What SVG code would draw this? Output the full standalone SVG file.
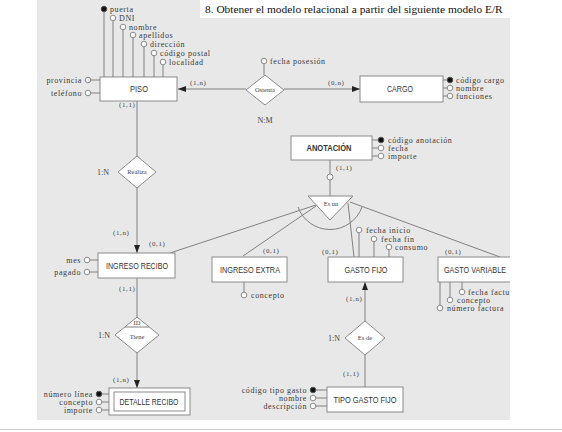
<svg xmlns="http://www.w3.org/2000/svg" width="562" height="432" viewBox="0 0 562 432">
<style>
.box{fill:#fff;stroke:#8a8a8a;stroke-width:1}
.ln{stroke:#808080;stroke-width:1;fill:none}
.oc{fill:#fff;stroke:#8a8a8a;stroke-width:1}
.fc{fill:#111;stroke:#555;stroke-width:1}
.dia{fill:#fff;stroke:#8a8a8a;stroke-width:1}
.attr{font-family:"Liberation Serif",serif;font-size:8px;letter-spacing:0.6px;fill:#3a3a3a}
.card{font-family:"Liberation Serif",serif;font-size:7px;letter-spacing:0.6px;fill:#444}
.ratio{font-family:"Liberation Serif",serif;font-size:8px;fill:#444}
.ent{font-family:"Liberation Sans",Arial,sans-serif;font-size:9px;fill:#333;text-anchor:middle}
.rel{font-family:"Liberation Serif",serif;font-size:6.5px;fill:#444;text-anchor:middle}
.end{text-anchor:end}
.mid{text-anchor:middle}
</style>
<defs>
<marker id="arr" viewBox="0 0 8 6" refX="8" refY="3" markerWidth="8" markerHeight="6" markerUnits="userSpaceOnUse" orient="auto">
<path d="M0,0 L8,3 L0,6 z" fill="#222"/>
</marker>
<clipPath id="page"><rect x="37" y="0" width="473" height="420"/></clipPath>
</defs>
<rect x="0" y="0" width="562" height="432" fill="#fff"/>
<rect x="37" y="0" width="473" height="420" fill="#e8e8e8"/>
<rect x="200" y="0" width="310" height="18" fill="#fff"/>
<line x1="0" y1="429.5" x2="562" y2="429.5" stroke="#cfcfcf" stroke-width="1"/>
<text x="205" y="13" font-family="Liberation Serif,serif" font-size="11.4" fill="#111">8. Obtener el modelo relacional a partir del siguiente modelo E/R</text>

<g clip-path="url(#page)">
<g id="connectors">
<line class="ln" x1="246" y1="89" x2="178" y2="89" marker-end="url(#arr)"/>
<line class="ln" x1="284" y1="89" x2="360" y2="89" marker-end="url(#arr)"/>
<line class="ln" x1="137" y1="101" x2="137" y2="156"/>
<line class="ln" x1="137" y1="188" x2="137" y2="253" marker-end="url(#arr)"/>
<line class="ln" x1="137" y1="278" x2="137" y2="317"/>
<line class="ln" x1="137" y1="353" x2="137" y2="388" marker-end="url(#arr)"/>
<line class="ln" x1="330" y1="160" x2="330" y2="196"/>
<circle class="oc" cx="330" cy="177" r="3"/>
<line class="ln" x1="316" y1="205" x2="170" y2="253"/>
<line class="ln" x1="316" y1="206" x2="243" y2="256"/>
<line class="ln" x1="348" y1="203" x2="354" y2="257"/>
<line class="ln" x1="350" y1="202" x2="500" y2="257"/>
<path class="ln" d="M298,207 A34,34 0 0 0 362,207"/>
<line class="ln" x1="365" y1="321" x2="365" y2="282" marker-end="url(#arr)"/>
<line class="ln" x1="365" y1="355" x2="365" y2="387"/>
<line class="ln" x1="264" y1="64" x2="264" y2="75"/>
</g>

<g id="piso">
<rect class="box" x="100" y="77" width="77" height="24"/>
<text class="ent" x="139" y="92" textLength="18" lengthAdjust="spacingAndGlyphs">PISO</text>
<line class="ln" x1="104" y1="12" x2="104" y2="77"/><circle class="fc" cx="104" cy="9" r="2.8"/>
<text class="attr" x="110" y="12">puerta</text>
<line class="ln" x1="113" y1="21" x2="113" y2="77"/><circle class="oc" cx="113" cy="18" r="2.8"/>
<text class="attr" x="119" y="21">DNI</text>
<line class="ln" x1="123" y1="30" x2="123" y2="77"/><circle class="oc" cx="123" cy="27" r="2.8"/>
<text class="attr" x="129" y="30">nombre</text>
<line class="ln" x1="133" y1="38" x2="133" y2="77"/><circle class="oc" cx="133" cy="35" r="2.8"/>
<text class="attr" x="139" y="38">apellidos</text>
<line class="ln" x1="144" y1="47" x2="144" y2="77"/><circle class="oc" cx="144" cy="44" r="2.8"/>
<text class="attr" x="150" y="47">dirección</text>
<line class="ln" x1="154" y1="56" x2="154" y2="77"/><circle class="oc" cx="154" cy="53" r="2.8"/>
<text class="attr" x="160" y="56">código postal</text>
<line class="ln" x1="163" y1="65" x2="163" y2="77"/><circle class="oc" cx="163" cy="62" r="2.8"/>
<text class="attr" x="169" y="65">localidad</text>
<line class="ln" x1="91" y1="80" x2="100" y2="80"/><circle class="oc" cx="88" cy="80" r="2.8"/>
<text class="attr end" x="82" y="83">provincia</text>
<line class="ln" x1="91" y1="93" x2="100" y2="93"/><circle class="oc" cx="88" cy="93" r="2.8"/>
<text class="attr end" x="82" y="96">teléfono</text>
</g>

<g id="ostenta">
<polygon class="dia" points="265,75 284,90 265,105 246,90"/>
<text class="rel" x="265" y="92">Ostenta</text>
<circle class="oc" cx="264" cy="61" r="2.8"/>
<text class="attr" x="270" y="64">fecha posesión</text>
<text class="card" x="190" y="85">(1,n)</text>
<text class="card" x="328" y="85">(0,n)</text>
<text class="ratio mid" x="265" y="123">N:M</text>
</g>

<g id="cargo">
<rect class="box" x="360" y="76" width="83" height="26"/>
<text class="ent" x="400" y="92" textLength="26" lengthAdjust="spacingAndGlyphs">CARGO</text>
<line class="ln" x1="443" y1="80" x2="448" y2="80"/><circle class="fc" cx="450" cy="80" r="2.8"/>
<text class="attr" x="456" y="83">código cargo</text>
<line class="ln" x1="443" y1="88" x2="448" y2="88"/><circle class="oc" cx="450" cy="88" r="2.8"/>
<text class="attr" x="456" y="91">nombre</text>
<line class="ln" x1="443" y1="96" x2="448" y2="96"/><circle class="oc" cx="450" cy="96" r="2.8"/>
<text class="attr" x="456" y="99">funciones</text>
</g>

<g id="realiza">
<polygon class="dia" points="137,156 156,172 137,188 118,172"/>
<text class="rel" x="137" y="174">Realiza</text>
<text class="card" x="119" y="107">(1,1)</text>
<text class="ratio end" x="109" y="175">1:N</text>
<text class="card" x="113" y="235">(1,n)</text>
</g>

<g id="anotacion">
<rect class="box" x="291" y="136" width="81" height="24"/>
<text class="ent" x="329" y="151" textLength="45" lengthAdjust="spacingAndGlyphs" font-weight="bold">ANOTACIÓN</text>
<line class="ln" x1="372" y1="140" x2="379" y2="140"/><circle class="fc" cx="381" cy="140" r="2.8"/>
<text class="attr" x="388" y="143">código anotación</text>
<line class="ln" x1="372" y1="148" x2="379" y2="148"/><circle class="oc" cx="381" cy="148" r="2.8"/>
<text class="attr" x="388" y="151">fecha</text>
<line class="ln" x1="372" y1="156" x2="379" y2="156"/><circle class="oc" cx="381" cy="156" r="2.8"/>
<text class="attr" x="388" y="159">importe</text>
<text class="card" x="336" y="170">(1,1)</text>
</g>

<g id="es-un">
<polygon class="dia" points="308,196 353,196 330,220"/>
<text class="rel" x="331" y="206" font-family="Liberation Sans,sans-serif">Es un</text>
</g>

<g id="ingreso-recibo">
<rect class="box" x="98" y="253" width="77" height="25"/>
<text class="ent" x="137" y="269" textLength="62" lengthAdjust="spacingAndGlyphs">INGRESO RECIBO</text>
<line class="ln" x1="90" y1="260" x2="98" y2="260"/><circle class="oc" cx="87" cy="260" r="2.8"/>
<text class="attr end" x="81" y="263">mes</text>
<line class="ln" x1="90" y1="272" x2="98" y2="272"/><circle class="oc" cx="87" cy="272" r="2.8"/>
<text class="attr end" x="81" y="275">pagado</text>
<text class="card" x="149" y="246">(0,1)</text>
<text class="card" x="119" y="291">(1,1)</text>
</g>

<g id="ingreso-extra">
<rect class="box" x="212" y="257" width="75" height="25"/>
<text class="ent" x="250" y="273" textLength="60" lengthAdjust="spacingAndGlyphs">INGRESO EXTRA</text>
<line class="ln" x1="244" y1="282" x2="244" y2="292"/><circle class="oc" cx="244" cy="295" r="2.8"/>
<text class="attr" x="251" y="298">concepto</text>
<text class="card" x="263" y="253">(0,1)</text>
</g>

<g id="gasto-fijo">
<rect class="box" x="328" y="257" width="75" height="25"/>
<text class="ent" x="366" y="273" textLength="43" lengthAdjust="spacingAndGlyphs">GASTO FIJO</text>
<line class="ln" x1="359" y1="233" x2="359" y2="257"/><circle class="oc" cx="359" cy="230" r="2.8"/>
<text class="attr" x="366" y="233">fecha inicio</text>
<line class="ln" x1="374" y1="242" x2="374" y2="257"/><circle class="oc" cx="374" cy="239" r="2.8"/>
<text class="attr" x="381" y="242">fecha fin</text>
<line class="ln" x1="389" y1="250" x2="389" y2="257"/><circle class="oc" cx="389" cy="247" r="2.8"/>
<text class="attr" x="395" y="250">consumo</text>
<text class="card" x="322" y="254">(0,1)</text>
<text class="card" x="346" y="301">(1,n)</text>
</g>

<g id="gasto-variable">
<rect class="box" x="438" y="257" width="76" height="25"/>
<text class="ent" x="475" y="273" textLength="62" lengthAdjust="spacingAndGlyphs">GASTO VARIABLE</text>
<line class="ln" x1="440" y1="282" x2="440" y2="305"/><circle class="oc" cx="440" cy="308" r="2.8"/>
<text class="attr" x="447" y="311">número factura</text>
<line class="ln" x1="450" y1="282" x2="450" y2="297"/><circle class="oc" cx="450" cy="300" r="2.8"/>
<text class="attr" x="457" y="303">concepto</text>
<line class="ln" x1="462" y1="282" x2="462" y2="289"/><circle class="oc" cx="462" cy="292" r="2.8"/>
<text class="attr" x="468" y="295">fecha factura</text>
<text class="card" x="445" y="254">(0,1)</text>
</g>

<g id="tiene">
<polygon class="dia" points="137,317 159,335 137,353 115,335"/>
<line class="ln" x1="125" y1="327" x2="149" y2="327"/>
<text class="rel" x="137" y="325" font-size="5.5">ID</text>
<text class="rel" x="137" y="339">Tiene</text>
<text class="ratio end" x="110" y="338">1:N</text>
<text class="card" x="113" y="382">(1,n)</text>
</g>

<g id="detalle-recibo">
<rect class="box" x="109" y="388" width="81" height="27"/>
<rect class="box" x="114" y="392" width="71" height="19"/>
<text class="ent" x="149" y="405" textLength="59" lengthAdjust="spacingAndGlyphs">DETALLE RECIBO</text>
<line class="ln" x1="102" y1="394" x2="109" y2="394"/><circle class="fc" cx="99" cy="394" r="2.8"/>
<text class="attr end" x="93" y="397">número línea</text>
<line class="ln" x1="102" y1="402" x2="109" y2="402"/><circle class="oc" cx="99" cy="402" r="2.8"/>
<text class="attr end" x="93" y="405">concepto</text>
<line class="ln" x1="102" y1="410" x2="109" y2="410"/><circle class="oc" cx="99" cy="410" r="2.8"/>
<text class="attr end" x="93" y="413">importe</text>
</g>

<g id="es-de">
<polygon class="dia" points="365,321 385,338 365,355 345,338"/>
<text class="rel" x="365" y="340">Es de</text>
<text class="ratio end" x="340" y="341">1:N</text>
<text class="card" x="343" y="376">(1,1)</text>
</g>

<g id="tipo-gasto-fijo">
<rect class="box" x="327" y="387" width="76" height="25"/>
<text class="ent" x="365" y="403" textLength="63" lengthAdjust="spacingAndGlyphs">TIPO GASTO FIJO</text>
<line class="ln" x1="316" y1="390" x2="327" y2="390"/><circle class="fc" cx="313" cy="390" r="2.8"/>
<text class="attr end" x="307" y="393">código tipo gasto</text>
<line class="ln" x1="316" y1="398" x2="327" y2="398"/><circle class="oc" cx="313" cy="398" r="2.8"/>
<text class="attr end" x="307" y="401">nombre</text>
<line class="ln" x1="316" y1="406" x2="327" y2="406"/><circle class="oc" cx="313" cy="406" r="2.8"/>
<text class="attr end" x="307" y="409">descripción</text>
</g>
</g>
</svg>
